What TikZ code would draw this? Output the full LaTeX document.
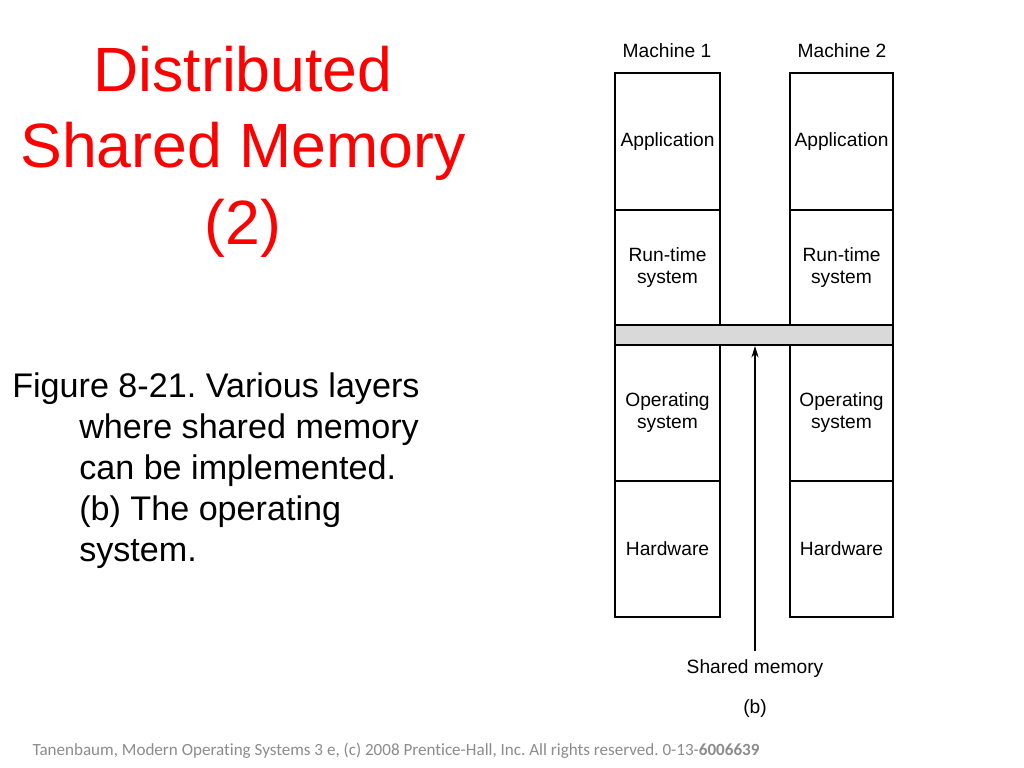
\documentclass[tikz,border=0pt]{standalone}
\usepackage{fontspec}
\setmainfont{Liberation Sans}
\newfontfamily\footfont[Ligatures=NoCommon]{Carlito}
\usetikzlibrary{arrows.meta}
\definecolor{titlered}{RGB}{255,0,0}
\definecolor{bandgray}{RGB}{217,217,217}
\definecolor{footgray}{RGB}{140,140,140}
\frenchspacing
\begin{document}
\begin{tikzpicture}[x=0.703125pt,y=-0.703125pt,
  txt/.style={inner sep=0pt,anchor=base},
  title/.style={txt,text=titlered,font=\fontsize{44}{53}\selectfont},
  body/.style={txt,anchor=base west,font=\fontsize{24}{29}\selectfont},
  lbl/.style={txt,font=\fontsize{13.5}{15.5}\selectfont},
  layer/.style={draw,line width=1.5pt,inner sep=0pt,align=center,
    font=\fontsize{13.5}{15.5}\selectfont},
  band/.style={draw,line width=1.5pt,fill=bandgray,inner sep=0pt},
  conn/.style={line width=0.8pt,-{Stealth[length=8pt,width=5pt]}}]
\useasboundingbox[fill=white] (0,0) rectangle (1024,768);
% title
\node[title] (t1) at (243,92) {Distributed};
\node[title] (t2) at (243,168) {Shared Memory};
\node[title] (t3) at (243,245) {(2)};
% body
\node[body] (b1) at (12,397) {Figure 8-21. Various layers};
\node[body] (b2) at (79,438) {where shared memory};
\node[body] (b3) at (79,479) {can be implemented.};
\node[body] (b4) at (79,520) {(b) The operating};
\node[body] (b5) at (79,561) {system.};
% machine labels
\node[lbl] (m1) at (667,58) {Machine 1};
\node[lbl] (m2) at (842,58) {Machine 2};
% machine 1 layers
\node[layer,minimum width=105*0.703125pt,minimum height=137*0.703125pt] (a1) at (667.5,141.5) {Application};
\node[layer,minimum width=105*0.703125pt,minimum height=115*0.703125pt] (r1) at (667.5,267.5) {Run-time\\system};
\node[layer,minimum width=105*0.703125pt,minimum height=136*0.703125pt] (o1) at (667.5,413) {Operating\\system};
\node[layer,minimum width=105*0.703125pt,minimum height=136*0.703125pt] (h1) at (667.5,549) {Hardware};
% machine 2 layers
\node[layer,minimum width=103*0.703125pt,minimum height=137*0.703125pt] (a2) at (841.5,141.5) {Application};
\node[layer,minimum width=103*0.703125pt,minimum height=115*0.703125pt] (r2) at (841.5,267.5) {Run-time\\system};
\node[layer,minimum width=103*0.703125pt,minimum height=136*0.703125pt] (o2) at (841.5,413) {Operating\\system};
\node[layer,minimum width=103*0.703125pt,minimum height=136*0.703125pt] (h2) at (841.5,549) {Hardware};
% shared band
\node[band,minimum width=278*0.703125pt,minimum height=20*0.703125pt] (band) at (754,335) {};
% shared memory label and arrow
\node[lbl] (sm) at (755,673) {Shared memory};
\coordinate (smtop) at (755,651);
\draw[conn] (smtop) -- (smtop |- band.south);
\node[lbl] (fb) at (755,713) {(b)};
% footer
\node[txt,text=footgray,font=\footfont\fontsize{12}{14}\selectfont] (foot) at (396,755)
  {Tanenbaum, Modern Operating Systems 3 e, (c) 2008 Prentice-Hall, Inc. All rights reserved. 0-13-\textbf{6006639}};
\end{tikzpicture}
\end{document}
